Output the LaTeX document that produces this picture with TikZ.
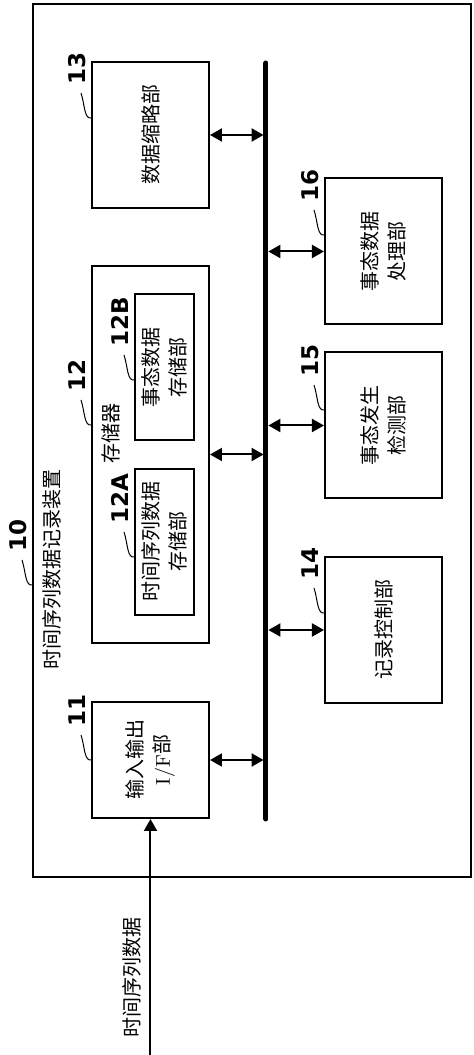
\documentclass[tikz,border=0pt]{standalone}
\usepackage{fontspec}
\newfontfamily\cjk{Noto Sans CJK SC}
\newfontfamily\numfont{DejaVu Sans}
\usetikzlibrary{arrows.meta}

\tikzset{
    unit/.style={draw, line width=1pt, minimum width=73pt, minimum height=58.5pt, inner sep=0pt, align=center, font=\cjk\fontsize{10}{13.5}\selectfont},
    subunit/.style={unit, minimum height=29.5pt},
    cjktext/.style={inner sep=0pt, font=\cjk\fontsize{10}{13.5}\selectfont},
    num/.style={anchor=west, inner sep=0pt, xshift=4pt, yshift=2pt, font=\numfont\bfseries\fontsize{11.5}{12}\selectfont},
    leader/.style={line width=0.5pt},
    link/.style={line width=1pt, shorten >=1.2pt, {Triangle[length=6pt,width=6.5pt]}-{Triangle[length=6pt,width=6.5pt]}},
}

\begin{document}
\begin{tikzpicture}[x=0.5pt, y=0.5pt, rotate=90, transform shape]
    \useasboundingbox (0,0) rectangle (1055,474);
    % device frame
    \node[draw, line width=1pt, minimum width=436.5pt, minimum height=219pt] (dev) at (614.5,222) {};
    \node[cjktext] (devlbl) at (485,422) {时间序列数据记录装置};
    % units
    \node[unit, minimum width=58pt] (n11) at (295,323.5) {输入输出\\{\rmfamily I/F}部};
    \node[unit, minimum width=188.5pt] (n12) at (600.5,323.5) {};
    \node[cjktext] (n12lbl) at (621,363) {存储器};
    \node[subunit] (n12A) at (513,309.5) {时间序列数据\\存储部};
    \node[subunit] (n12B) at (687.5,309.5) {事态数据\\存储部};
    \node[unit] (n13) at (920,323.5) {数据缩略部};
    \node[unit] (n14) at (425,90.5) {记录控制部};
    \node[unit] (n15) at (629.5,90.5) {事态发生\\检测部};
    \node[unit] (n16) at (803.5,90.5) {事态数据\\处理部};
    % bus
    \draw[line width=2.5pt, line cap=round] (236,208) coordinate (busl) -- (992,208) coordinate (busr);
    \foreach \n in {n11,n12,n13,n14,n15,n16}{
        \draw[link] (\n) -- (\n |- busl);
    }
    % input
    \coordinate (src) at (0,323.5);
    \draw[line width=1pt, -{Triangle[length=6pt,width=6.5pt]}] (src) -- node[cjktext, pos=0.33, above=4pt] (srclbl) {时间序列数据} (n11);
    % reference numbers
    \foreach \u/\v/\t in {937/382/13, 820/149/16, 630/382/12, 675/339/12B, 498/339/12A, 645/149/15, 442/149/14, 295/382/11, 470/441/10}
        \draw[leader] (\u,\v) .. controls +(-2,8) and +(-12,-4) .. ++(25,11) node[num] (tag\t) {\t};
\end{tikzpicture}
\end{document}
